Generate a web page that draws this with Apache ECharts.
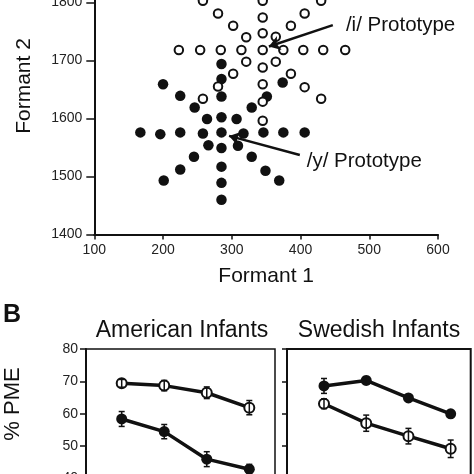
<!DOCTYPE html>
<html>
<head>
<meta charset="utf-8">
<script src="https://cdn.jsdelivr.net/npm/echarts@6/dist/echarts.min.js"></script>
<style>
  html, body { margin: 0; padding: 0; background: #fff; }
  #chart { width: 474px; height: 474px; }
</style>
</head>
<body>
<div id="chart"></div>
<script>
// ---- panel A: stimulus grid (open = /i/, filled = /y/) ----
const iF1 = [223, 254, 284, 314, 345, 375, 404, 433, 465,
             345, 345, 345, 345, 345, 345, 345,
             321, 302, 280, 258, 364, 386, 406, 430,
             321, 302, 280, 258, 364, 386, 406, 430];
const iF2 = [1718, 1718, 1718, 1718, 1718, 1718, 1718, 1718, 1718,
             1803, 1774, 1747, 1688, 1659, 1629, 1596,
             1740, 1760, 1781, 1803, 1741, 1760, 1781, 1803,
             1698, 1677, 1655, 1634, 1698, 1677, 1654, 1634];
const yF1 = [167, 196, 225, 258, 285, 317, 346, 375, 406,
             285, 285, 285, 285, 285, 285, 285, 285,
             264, 246, 225, 200, 307, 329, 351, 374,
             266, 245, 225, 201, 309, 329, 349, 369];
const yF2 = [1576, 1573, 1576, 1574, 1576, 1574, 1576, 1576, 1576,
             1694, 1668, 1638, 1602, 1549, 1517, 1489, 1460,
             1599, 1619, 1639, 1659, 1599, 1619, 1638, 1662,
             1554, 1534, 1512, 1493, 1553, 1534, 1510, 1493];
// annotation arrows: [from, to] in formant units, and label anchors
const iArrow = [[447, 1761], [354, 1724]];
const yArrow = [[399, 1537], [296, 1570]];
const iLabelAt = [466, 1761];
const yLabelAt = [409, 1526];

// ---- panel B: % PME at four test points ----
const slots = [1, 2, 3, 4];
const amOpen = [69.4, 68.7, 66.5, 61.9];
const amOpenErr = [1.2, 1.6, 1.8, 2.2];
const amFilled = [58.4, 54.5, 46.0, 42.9];
const amFilledErr = [2.3, 2.2, 2.3, 1.5];
const swFilled = [68.6, 70.3, 64.9, 60.0];
const swFilledErr = [2.3, 1.2, 1.0, 1.0];
const swOpen = [63.1, 57.1, 53.1, 49.2];
const swOpenErr = [1.5, 2.5, 2.4, 2.7];

const FONT = 'Liberation Sans';
const INK = '#111';

const zip = (a, b) => a.map((v, i) => [v, b[i]]);

function lineSeries(idx, vals, open) {
  return {
    type: 'line', xAxisIndex: idx, yAxisIndex: idx, z: 2,
    data: zip(slots, vals),
    symbol: 'circle', symbolSize: open ? 10 : 11,
    lineStyle: { color: INK, width: 3.5 },
    itemStyle: open ? { color: '#fff', borderColor: INK, borderWidth: 2 } : { color: INK },
    emphasis: { disabled: true }
  };
}

function errSeries(idx, vals, errs) {
  return {
    type: 'custom', xAxisIndex: idx, yAxisIndex: idx, z: 3, silent: true,
    data: vals.map((v, i) => [slots[i], v - errs[i], v + errs[i]]),
    encode: { x: 0, y: [1, 2] },
    renderItem(params, api) {
      const lo = api.coord([api.value(0), api.value(1)]);
      const hi = api.coord([api.value(0), api.value(2)]);
      const w = 3;
      const st = { stroke: INK, lineWidth: 1.5 };
      return {
        type: 'group', children: [
          { type: 'line', shape: { x1: lo[0], y1: lo[1], x2: hi[0], y2: hi[1] }, style: st },
          { type: 'line', shape: { x1: lo[0] - w, y1: lo[1], x2: lo[0] + w, y2: lo[1] }, style: st },
          { type: 'line', shape: { x1: hi[0] - w, y1: hi[1], x2: hi[0] + w, y2: hi[1] }, style: st }
        ]
      };
    }
  };
}

function arrow(a) {
  return [{ coord: a[0] }, { coord: a[1] }];
}

const chart = echarts.init(document.getElementById('chart'));
chart.setOption({
  animation: false,
  textStyle: { fontFamily: FONT },
  title: [
    { text: 'American Infants', left: 182, top: 319, textAlign: 'center', padding: 0,
      textStyle: { fontFamily: FONT, fontSize: 23, fontWeight: 'normal', color: INK } },
    { text: 'Swedish Infants', left: 379, top: 319, textAlign: 'center', padding: 0,
      textStyle: { fontFamily: FONT, fontSize: 23, fontWeight: 'normal', color: INK } }
  ],
  graphic: [
    { type: 'text', left: 3, top: 303,
      style: { text: 'B', font: 'bold 25px "Liberation Sans"', fill: INK } },
    { type: 'text', x: 13, y: 404, rotation: Math.PI / 2,
      style: { text: '% PME', font: '22px "Liberation Sans"', fill: INK,
               align: 'center', verticalAlign: 'middle' } }
  ],
  grid: [
    { left: 94.3, right: 36, top: -62.5, bottom: 239.5, outerBoundsMode: 'none' },
    { left: 86, right: 199, top: 349, bottom: -4.6, outerBoundsMode: 'none',
      show: true, borderColor: INK, borderWidth: 1.5 },
    { left: 287, right: 3.3, top: 349, bottom: -4.6, outerBoundsMode: 'none',
      show: true, borderColor: INK, borderWidth: 2 }
  ],
  xAxis: [
    { gridIndex: 0, type: 'value', min: 100, max: 600, interval: 100,
      name: 'Formant 1', nameLocation: 'middle', nameGap: 31,
      nameTextStyle: { fontFamily: FONT, fontSize: 21, color: INK },
      axisLine: { lineStyle: { color: INK, width: 2 } },
      axisTick: { length: 5, lineStyle: { color: INK, width: 1.5 } },
      axisLabel: { fontFamily: FONT, fontSize: 14, color: '#222', margin: 9 },
      splitLine: { show: false } },
    { gridIndex: 1, type: 'value', min: 0.161, max: 4.604, show: false },
    { gridIndex: 2, type: 'value', min: 0.124, max: 4.474, show: false }
  ],
  yAxis: [
    { gridIndex: 0, type: 'value', min: 1400, max: 1912, interval: 100,
      name: 'Formant 2', nameLocation: 'middle', nameGap: 60, nameRotate: 90,
      nameTextStyle: { fontFamily: FONT, fontSize: 21, color: INK },
      axisLine: { lineStyle: { color: INK, width: 2 } },
      axisTick: { length: 8, lineStyle: { color: INK, width: 1.5 } },
      axisLabel: { fontFamily: FONT, fontSize: 14, color: '#222', margin: 12,
                   formatter: v => (v % 100 === 0 ? String(v) : '') },
      splitLine: { show: false } },
    { gridIndex: 1, type: 'value', min: 40, max: 80, interval: 10,
      axisLine: { show: true, lineStyle: { color: INK, width: 2 } },
      axisTick: { show: true, length: 6, lineStyle: { color: INK, width: 1.5 } },
      axisLabel: { fontFamily: FONT, fontSize: 14, color: '#222', margin: 8 },
      splitLine: { show: false } },
    { gridIndex: 2, type: 'value', min: 40, max: 80, interval: 10,
      axisLine: { show: true, lineStyle: { color: INK, width: 1.5 } },
      axisTick: { show: true, length: 5, lineStyle: { color: INK, width: 1.5 } },
      axisLabel: { show: false },
      splitLine: { show: false } }
  ],
  series: [
    { name: '/y/', type: 'scatter', xAxisIndex: 0, yAxisIndex: 0,
      data: zip(yF1, yF2), symbolSize: 10.5, itemStyle: { color: INK, opacity: 1 },
      markLine: { silent: true, symbol: ['none', 'arrow'], symbolSize: 11,
        label: { show: false }, lineStyle: { color: INK, width: 2.5, type: 'solid' },
        data: [arrow(yArrow)] },
      markPoint: { silent: true, symbol: 'circle', symbolSize: 0,
        label: { show: true, position: 'right', distance: 0, formatter: '/y/ Prototype',
                 fontFamily: FONT, fontSize: 20.5, color: INK },
        data: [{ coord: yLabelAt }] } },
    { name: '/i/', type: 'scatter', xAxisIndex: 0, yAxisIndex: 0,
      data: zip(iF1, iF2), symbolSize: 8.5,
      itemStyle: { color: '#fff', borderColor: INK, borderWidth: 2, opacity: 1 },
      markLine: { silent: true, symbol: ['none', 'arrow'], symbolSize: 11,
        label: { show: false }, lineStyle: { color: INK, width: 2.5, type: 'solid' },
        data: [arrow(iArrow)] },
      markPoint: { silent: true, symbol: 'circle', symbolSize: 0,
        label: { show: true, position: 'right', distance: 0, formatter: '/i/ Prototype',
                 fontFamily: FONT, fontSize: 20.5, color: INK },
        data: [{ coord: iLabelAt }] } },
    lineSeries(1, amOpen, true),
    lineSeries(1, amFilled, false),
    errSeries(1, amOpen, amOpenErr),
    errSeries(1, amFilled, amFilledErr),
    lineSeries(2, swFilled, false),
    lineSeries(2, swOpen, true),
    errSeries(2, swFilled, swFilledErr),
    errSeries(2, swOpen, swOpenErr)
  ]
});
</script>
</body>
</html>
